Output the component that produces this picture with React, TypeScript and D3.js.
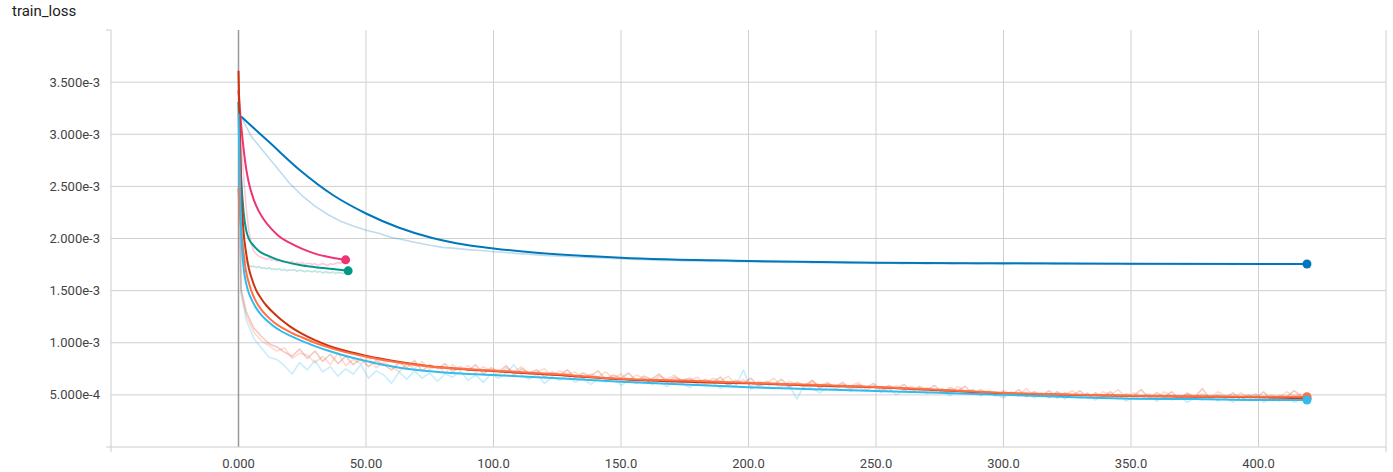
import React, { useRef, useEffect } from 'react';
import * as d3 from 'd3';

const WIDTH = 1393;
const HEIGHT = 472;
const margin = { top: 30, right: 7, bottom: 25, left: 111 };

// values below are in units of 1e-3
const UNIT = 1e-3;

const xDomain: [number, number] = [-50, 450];
const yDomain: [number, number] = [0, 4e-3];
const xTicks = [0, 50, 100, 150, 200, 250, 300, 350, 400];
const yTicks = [5e-4, 1e-3, 1.5e-3, 2e-3, 2.5e-3, 3e-3, 3.5e-3];

// --- blue run (long, slow) ---
const blueSmoothSteps = [1, 12, 24, 37, 50, 63, 76, 89, 100, 118, 150, 200, 250, 300, 350, 419];
const blueSmooth = [3.17, 2.925, 2.657, 2.417, 2.24, 2.103, 2.005, 1.94, 1.905, 1.862, 1.816, 1.784, 1.768, 1.762, 1.758, 1.755];
const blueRawSteps = [1, ...d3.range(5, 420, 5), 419];
const blueRaw = [
  3.17,
  2.98, 2.83, 2.68, 2.53, 2.41, 2.31, 2.23, 2.165, 2.12, 2.08,
  2.05, 2.01, 1.985, 1.96, 1.935, 1.915, 1.905, 1.893, 1.885, 1.873,
  1.865, 1.855, 1.848, 1.838, 1.832, 1.826, 1.82, 1.815, 1.81, 1.806,
  1.8, 1.797, 1.79, 1.792, 1.785, 1.788, 1.78, 1.785, 1.777, 1.78,
  1.772, 1.776, 1.77, 1.774, 1.765, 1.77, 1.766, 1.762, 1.768, 1.76,
  1.765, 1.758, 1.764, 1.756, 1.762, 1.757, 1.763, 1.755, 1.76, 1.752,
  1.758, 1.756, 1.761, 1.754, 1.759, 1.753, 1.757, 1.755, 1.76, 1.751,
  1.757, 1.754, 1.758, 1.75, 1.756, 1.753, 1.758, 1.752, 1.756, 1.754,
  1.758, 1.752, 1.756,
  1.755,
];

// --- pink run (short) ---
const pinkSmoothSteps = [0, 1, 2, 3, 4, 6, 8, 10, 13, 16, 20, 25, 30, 35, 42];
const pinkSmooth = [3.42, 3.10, 2.86, 2.67, 2.54, 2.37, 2.26, 2.18, 2.09, 2.02, 1.96, 1.90, 1.855, 1.825, 1.795];
const pinkRawSteps = d3.range(0, 43);
const pinkRaw = [
  3.42, 2.95, 2.6, 2.3, 2.08, 1.95, 1.88, 1.85, 1.83, 1.82,
  1.81, 1.80, 1.81, 1.79, 1.80, 1.78, 1.79, 1.78, 1.77, 1.78,
  1.77, 1.78, 1.76, 1.77, 1.76, 1.77, 1.75, 1.76, 1.76, 1.75,
  1.76, 1.74, 1.75, 1.76, 1.75, 1.74, 1.76, 1.75, 1.76, 1.77,
  1.76, 1.78, 1.79,
];

// --- teal run (short) ---
const tealSmoothSteps = [0, 1, 2, 3, 4, 6, 8, 11, 15, 18, 24, 30, 37, 43];
const tealSmooth = [3.31, 2.60, 2.25, 2.08, 2.00, 1.93, 1.88, 1.84, 1.80, 1.778, 1.746, 1.725, 1.707, 1.69];
const tealRawSteps = d3.range(0, 44);
const tealRaw = [
  3.31, 2.25, 1.88, 1.77, 1.74, 1.73, 1.735, 1.72, 1.73, 1.715,
  1.72, 1.71, 1.72, 1.705, 1.71, 1.70, 1.71, 1.695, 1.705, 1.69,
  1.70, 1.695, 1.70, 1.685, 1.695, 1.69, 1.68, 1.69, 1.685, 1.68,
  1.69, 1.675, 1.685, 1.67, 1.68, 1.675, 1.67, 1.68, 1.665, 1.675,
  1.67, 1.665, 1.675, 1.68,
];

// --- three low runs (red, orange, cyan) ---
const lowSmoothSteps = [0, 1, 2, 3, 4, 5, 7, 9, 11, 14, 17, 20, 25, 30, 35, 40, 50, 62, 75, 87, 100, 125, 150, 175, 200, 225, 250, 275, 300, 325, 350, 375, 400, 419];
const redSmooth = [3.61, 2.5, 2.06, 1.86, 1.72, 1.63, 1.50, 1.42, 1.355, 1.28, 1.215, 1.16, 1.085, 1.025, 0.975, 0.935, 0.875, 0.82, 0.775, 0.748, 0.728, 0.69, 0.649, 0.625, 0.611, 0.59, 0.573, 0.545, 0.515, 0.50, 0.489, 0.483, 0.477, 0.468];
const orangeSmooth = [2.48, 2.1, 1.85, 1.68, 1.58, 1.50, 1.39, 1.315, 1.26, 1.195, 1.145, 1.105, 1.05, 1.0, 0.958, 0.922, 0.866, 0.812, 0.772, 0.75, 0.733, 0.699, 0.654, 0.637, 0.616, 0.596, 0.576, 0.55, 0.519, 0.503, 0.492, 0.486, 0.481, 0.483];
const cyanSmooth = [3.2, 2.1, 1.72, 1.57, 1.48, 1.42, 1.33, 1.265, 1.215, 1.155, 1.108, 1.07, 1.015, 0.968, 0.925, 0.888, 0.825, 0.765, 0.727, 0.705, 0.69, 0.66, 0.626, 0.60, 0.573, 0.555, 0.537, 0.52, 0.50, 0.48, 0.463, 0.46, 0.451, 0.451];

const lowRawSteps = [0, 1, ...d3.range(3, 420, 3)];
const redRaw = [
  3.61, 1.52, 1.30, 1.14, 1.06, 0.99, 0.96, 0.91, 0.87, 0.94,
  0.85, 0.92, 0.82, 0.89, 0.80, 0.87, 0.79, 0.85, 0.77, 0.83,
  0.79, 0.74, 0.81, 0.76, 0.83, 0.73, 0.79, 0.75, 0.80, 0.72,
  0.77, 0.73, 0.79, 0.70, 0.76, 0.72, 0.78, 0.69, 0.75, 0.71,
  0.74, 0.67, 0.72, 0.69, 0.74, 0.66, 0.71, 0.68, 0.73, 0.65,
  0.69, 0.66, 0.71, 0.63, 0.68, 0.65, 0.70, 0.62, 0.67, 0.64,
  0.66, 0.61, 0.65, 0.62, 0.67, 0.59, 0.64, 0.61, 0.66, 0.58,
  0.63, 0.60, 0.65, 0.57, 0.62, 0.59, 0.64, 0.56, 0.61, 0.58,
  0.62, 0.55, 0.60, 0.57, 0.61, 0.54, 0.59, 0.56, 0.60, 0.53,
  0.58, 0.55, 0.59, 0.52, 0.57, 0.54, 0.58, 0.51, 0.55, 0.52,
  0.49, 0.54, 0.50, 0.55, 0.48, 0.53, 0.50, 0.54, 0.47, 0.52,
  0.49, 0.54, 0.47, 0.52, 0.48, 0.53, 0.46, 0.51, 0.49, 0.55,
  0.47, 0.52, 0.48, 0.53, 0.46, 0.51, 0.48, 0.56, 0.46, 0.50,
  0.47, 0.52, 0.45, 0.50, 0.47, 0.53, 0.45, 0.49, 0.48, 0.54,
  0.48,
];
const orangeRaw = [
  2.48, 1.49, 1.27, 1.10, 1.02, 0.97, 0.92, 0.95, 0.85, 0.90,
  0.88, 0.81, 0.87, 0.79, 0.90, 0.78, 0.84, 0.80, 0.86, 0.76,
  0.81, 0.77, 0.72, 0.80, 0.75, 0.82, 0.74, 0.78, 0.71, 0.79,
  0.74, 0.78, 0.71, 0.77, 0.73, 0.69, 0.76, 0.72, 0.77, 0.70,
  0.72, 0.75, 0.68, 0.73, 0.70, 0.72, 0.65, 0.70, 0.67, 0.72,
  0.66, 0.70, 0.64, 0.69, 0.66, 0.61, 0.68, 0.65, 0.69, 0.62,
  0.64, 0.67, 0.60, 0.66, 0.63, 0.68, 0.60, 0.65, 0.58, 0.63,
  0.61, 0.66, 0.58, 0.63, 0.60, 0.57, 0.63, 0.59, 0.62, 0.56,
  0.60, 0.58, 0.62, 0.55, 0.59, 0.57, 0.53, 0.59, 0.55, 0.58,
  0.54, 0.57, 0.53, 0.56, 0.51, 0.58, 0.53, 0.55, 0.50, 0.54,
  0.52, 0.48, 0.53, 0.50, 0.56, 0.49, 0.52, 0.47, 0.53, 0.50,
  0.54, 0.48, 0.51, 0.47, 0.53, 0.50, 0.55, 0.47, 0.52, 0.49,
  0.51, 0.47, 0.53, 0.49, 0.46, 0.52, 0.48, 0.51, 0.47, 0.53,
  0.49, 0.46, 0.52, 0.48, 0.51, 0.46, 0.50, 0.47, 0.53, 0.49,
  0.51,
];
const cyanRaw = [
  3.20, 1.47, 1.22, 1.04, 0.95, 0.86, 0.84, 0.78, 0.70, 0.81,
  0.74, 0.83, 0.72, 0.77, 0.68, 0.75, 0.70, 0.79, 0.66, 0.73,
  0.69, 0.61, 0.72, 0.65, 0.73, 0.66, 0.71, 0.63, 0.70, 0.67,
  0.73, 0.64, 0.69, 0.62, 0.70, 0.66, 0.71, 0.79, 0.69, 0.65,
  0.70, 0.61, 0.67, 0.64, 0.69, 0.62, 0.66, 0.60, 0.65, 0.62,
  0.67, 0.59, 0.64, 0.61, 0.66, 0.60, 0.63, 0.58, 0.64, 0.61,
  0.57, 0.63, 0.59, 0.62, 0.56, 0.61, 0.58, 0.74, 0.55, 0.60,
  0.57, 0.61, 0.56, 0.59, 0.46, 0.60, 0.56, 0.52, 0.58, 0.55,
  0.59, 0.53, 0.57, 0.54, 0.58, 0.52, 0.56, 0.50, 0.55, 0.52,
  0.57, 0.51, 0.55, 0.53, 0.49, 0.54, 0.51, 0.55, 0.49, 0.53,
  0.50, 0.47, 0.52, 0.49, 0.53, 0.47, 0.51, 0.48, 0.53, 0.46,
  0.50, 0.48, 0.52, 0.45, 0.49, 0.47, 0.51, 0.44, 0.48, 0.46,
  0.50, 0.44, 0.48, 0.45, 0.49, 0.43, 0.47, 0.45, 0.49, 0.44,
  0.47, 0.43, 0.48, 0.45, 0.50, 0.43, 0.47, 0.44, 0.48, 0.43,
  0.46,
];

type Run = {
  color: string;
  smoothSteps: number[];
  smooth: number[];
  rawSteps: number[];
  raw: number[];
};

const runs: Run[] = [
  { color: '#0077bb', smoothSteps: blueSmoothSteps, smooth: blueSmooth, rawSteps: blueRawSteps, raw: blueRaw },
  { color: '#ee3377', smoothSteps: pinkSmoothSteps, smooth: pinkSmooth, rawSteps: pinkRawSteps, raw: pinkRaw },
  { color: '#009988', smoothSteps: tealSmoothSteps, smooth: tealSmooth, rawSteps: tealRawSteps, raw: tealRaw },
  { color: '#cc3311', smoothSteps: lowSmoothSteps, smooth: redSmooth, rawSteps: lowRawSteps, raw: redRaw },
  { color: '#ff7043', smoothSteps: lowSmoothSteps, smooth: orangeSmooth, rawSteps: lowRawSteps, raw: orangeRaw },
  { color: '#33bbee', smoothSteps: lowSmoothSteps, smooth: cyanSmooth, rawSteps: lowRawSteps, raw: cyanRaw },
];

const zip = (steps: number[], vals: number[]): [number, number][] =>
  steps.slice(0, Math.min(steps.length, vals.length)).map((s, i) => [s, vals[i] * UNIT]);

const App: React.FC = () => {
  const svgRef = useRef<SVGSVGElement | null>(null);

  useEffect(() => {
    if (!svgRef.current) return;
    const svg = d3.select(svgRef.current);
    svg.selectAll('*').remove();

    const x = d3.scaleLinear().domain(xDomain).range([margin.left, WIDTH - margin.right]);
    const y = d3.scaleLinear().domain(yDomain).range([HEIGHT - margin.bottom, margin.top]);
    const x0 = margin.left, x1 = WIDTH - margin.right;
    const y0 = HEIGHT - margin.bottom, y1 = margin.top;
    const font = 'Roboto, "Liberation Sans", Arial, sans-serif';

    // title
    svg.append('text')
      .attr('x', 12).attr('y', 16)
      .attr('font-family', font).attr('font-size', 15)
      .attr('fill', '#212121')
      .text('train_loss');

    // grid
    const grid = svg.append('g');
    grid.selectAll('line.h').data(yTicks).enter().append('line')
      .attr('x1', x0).attr('x2', x1)
      .attr('y1', d => y(d)).attr('y2', d => y(d))
      .attr('stroke', '#d0d0d0').attr('stroke-width', 1);
    grid.selectAll('line.v').data([...xTicks, xDomain[1]]).enter().append('line')
      .attr('x1', d => x(d)).attr('x2', d => x(d))
      .attr('y1', y1).attr('y2', y0)
      .attr('stroke', d => (d === 0 ? '#999' : '#d0d0d0'))
      .attr('stroke-width', d => (d === 0 ? 1.5 : 1));

    // axis lines + end ticks
    const axes = svg.append('g').attr('stroke', '#ccc').attr('stroke-width', 1);
    axes.append('line').attr('x1', x0).attr('x2', x0).attr('y1', y1).attr('y2', y0);
    axes.append('line').attr('x1', x0).attr('x2', x1).attr('y1', y0).attr('y2', y0);
    [y1, y0].forEach(v => axes.append('line').attr('x1', x0 - 5).attr('x2', x0).attr('y1', v).attr('y2', v));
    [x0, x1].forEach(v => axes.append('line').attr('x1', v).attr('x2', v).attr('y1', y0).attr('y2', y0 + 5));

    // tick labels
    const fy = d3.format('.3e');
    svg.append('g').selectAll('text').data(yTicks).enter().append('text')
      .attr('x', 100).attr('y', d => y(d)).attr('dy', '0.35em')
      .attr('text-anchor', 'end')
      .attr('font-family', font).attr('font-size', 13).attr('fill', '#444')
      .text(d => fy(d));
    const fx = d3.format('.4r');
    svg.append('g').selectAll('text').data(xTicks).enter().append('text')
      .attr('x', d => x(d)).attr('y', 468)
      .attr('text-anchor', 'middle')
      .attr('font-family', font).attr('font-size', 13).attr('fill', '#444')
      .text(d => fx(d));

    // data
    svg.append('clipPath').attr('id', 'plot-clip').append('rect')
      .attr('x', x0).attr('y', y1).attr('width', x1 - x0).attr('height', y0 - y1);
    const plot = svg.append('g').attr('clip-path', 'url(#plot-clip)');

    const rawLine = d3.line<[number, number]>().x(d => x(d[0])).y(d => y(d[1]));
    const smoothLine = d3.line<[number, number]>().x(d => x(d[0])).y(d => y(d[1])).curve(d3.curveMonotoneX);

    runs.forEach(r => {
      plot.append('path')
        .attr('d', rawLine(zip(r.rawSteps, r.raw)))
        .attr('fill', 'none').attr('stroke', r.color)
        .attr('stroke-opacity', 0.26).attr('stroke-width', 1.6)
        .attr('stroke-linejoin', 'round');
    });
    runs.forEach(r => {
      plot.append('path')
        .attr('d', smoothLine(zip(r.smoothSteps, r.smooth)))
        .attr('fill', 'none').attr('stroke', r.color)
        .attr('stroke-width', 2).attr('stroke-linejoin', 'round');
    });
    runs.forEach(r => {
      const pts = zip(r.smoothSteps, r.smooth);
      const last = pts[pts.length - 1];
      plot.append('circle')
        .attr('cx', x(last[0])).attr('cy', y(last[1])).attr('r', 4.5)
        .attr('fill', r.color);
    });
  }, []);

  return (
    <svg
      ref={svgRef}
      width={WIDTH}
      height={HEIGHT}
      style={{ position: 'absolute', left: 0, top: 0, background: '#fff' }}
    />
  );
};

export default App;
